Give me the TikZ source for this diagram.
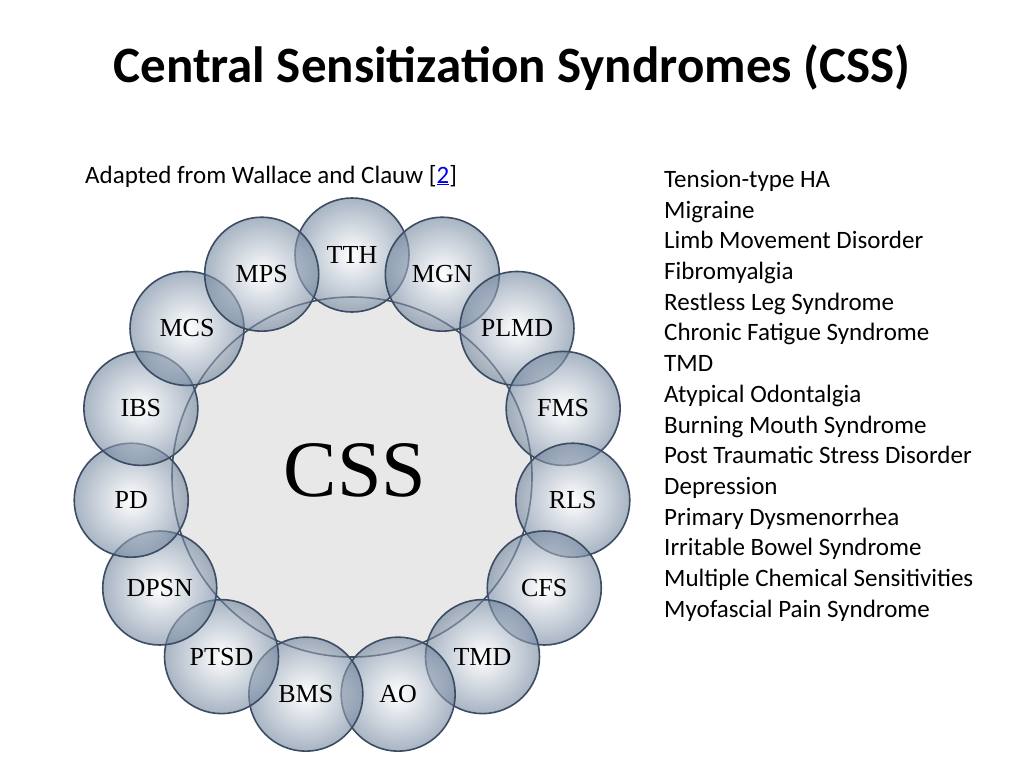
\documentclass[tikz,border=0pt]{standalone}
\usepackage{fontspec}
\setmainfont{Liberation Serif}
\newfontfamily\calib{Carlito}
\usetikzlibrary{positioning, calc}
\definecolor{ringEdge}{HTML}{3B4C63}
\definecolor{ringOut}{HTML}{6F839C}
\definecolor{linkBlue}{HTML}{0000EE}
\tikzset{
    coreCirc/.style={circle, draw=ringEdge, line width=1.6pt, fill=gray!18, minimum size=360pt, inner sep=0pt},
    petal/.style={circle, draw=ringEdge, line width=1.6pt, inner color=white, outer color=ringOut, fill opacity=0.6, minimum size=114pt, inner sep=0pt},
    petalText/.style={font=\fontsize{26}{26}\selectfont, text=black},
    listText/.style={font=\calib\fontsize{25}{30.7}\selectfont, align=left, anchor=north west, inner sep=0pt},
}
\begin{document}
\begin{tikzpicture}[x=1pt, y=-1pt]
    \useasboundingbox (0,0) rectangle (1024,768);

    \node[font=\calib\bfseries\fontsize{51}{51}\selectfont] (title) at (512,68) {Central Sensitization Syndromes (CSS)};
    \node[font=\calib\fontsize{25}{25}\selectfont, anchor=west, inner sep=0pt] (src) at (85,176) {Adapted from Wallace and Clauw [\textcolor{linkBlue}{\underline{2}}]};

    \node[coreCirc] (core) at (352,477) {};
    \foreach \lab [count=\i from 0] in {TTH, MGN, PLMD, FMS, RLS, CFS, TMD, AO, BMS, PTSD, DPSN, PD, IBS, MCS, MPS} {
        \node[petal] (p\i) at ($(core.center)+({24*\i-90}:222)$) {};
    }
    \foreach \lab [count=\i from 0] in {TTH, MGN, PLMD, FMS, RLS, CFS, TMD, AO, BMS, PTSD, DPSN, PD, IBS, MCS, MPS} {
        \node[petalText] at (p\i) {\lab};
    }
    \node[font=\fontsize{80}{80}\selectfont] (cssLab) at (355,470) {CSS};

    \node[listText] (list) at (664,170) {Tension-type HA\\Migraine\\Limb Movement Disorder\\Fibromyalgia\\Restless Leg Syndrome\\Chronic Fatigue Syndrome\\TMD\\Atypical Odontalgia\\Burning Mouth Syndrome\\Post Traumatic Stress Disorder\\Depression\\Primary Dysmenorrhea\\Irritable Bowel Syndrome\\Multiple Chemical Sensitivities\\Myofascial Pain Syndrome};
\end{tikzpicture}
\end{document}
